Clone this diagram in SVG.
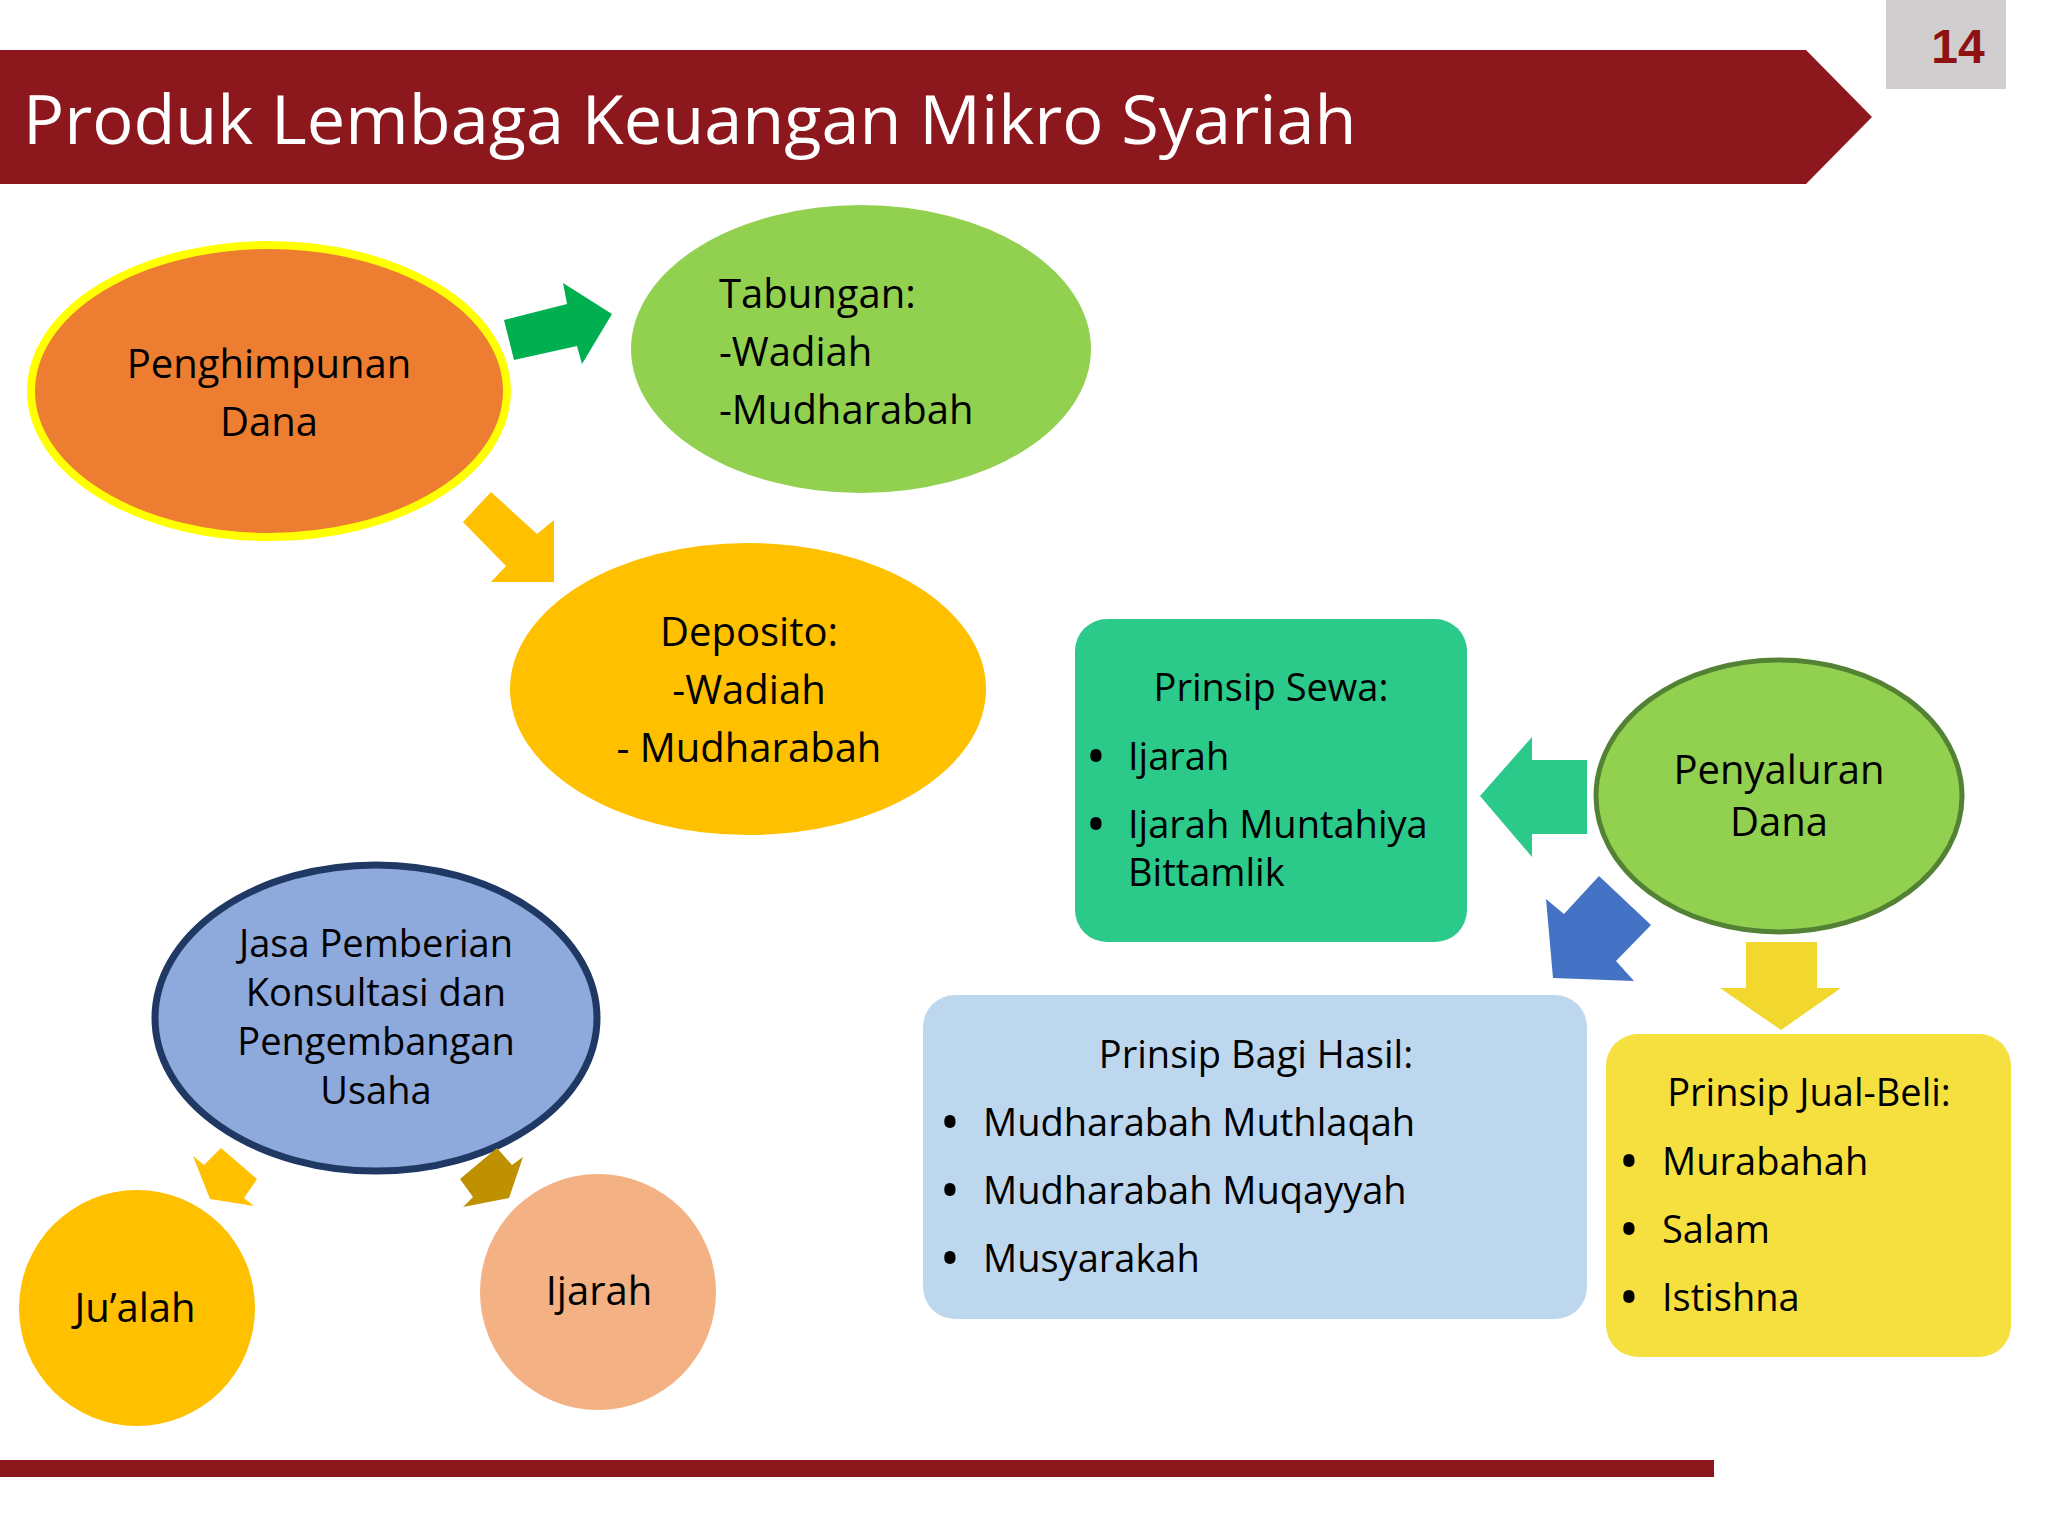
<svg xmlns="http://www.w3.org/2000/svg" width="2048" height="1536" viewBox="0 0 2048 1536">
<style>
  text { font-family: "Open Sans", "Liberation Sans", sans-serif; fill: #000; }
  .t40 { font-size: 40px; }
  .t38 { font-size: 38px; }
  .mid { text-anchor: middle; }
  .bul { font-size: 54px; text-anchor: middle; }
  .title { font-size: 68.5px; fill: #FFFFFF; }
  .pg { font-family: "Liberation Sans", sans-serif; font-weight: bold; font-size: 48px; fill: #8E1212; text-anchor: middle; }
</style>
<rect x="0" y="0" width="2048" height="1536" fill="#FFFFFF"/>

<g id="header">
  <polygon points="0,50 1806,50 1872,117 1806,184 0,184" fill="#8C181D"/>
  <text class="title" x="23" y="144">Produk Lembaga Keuangan Mikro Syariah</text>
</g>
<g id="page-number">
  <rect x="1886" y="0" width="120" height="89" fill="#D0CECE"/>
  <text class="pg" x="1958" y="63">14</text>
</g>

<g id="penghimpunan">
  <ellipse cx="269" cy="391" rx="238" ry="146" fill="#ED7D31" stroke="#FFFF00" stroke-width="8"/>
  <text class="t40 mid" x="269" y="378">Penghimpunan</text>
  <text class="t40 mid" x="269" y="436">Dana</text>
</g>
<g id="tabungan">
  <ellipse cx="861" cy="349" rx="230" ry="144" fill="#92D050"/>
  <text class="t40" x="719" y="308">Tabungan:</text>
  <text class="t40" x="719" y="366">-Wadiah</text>
  <text class="t40" x="719" y="424">-Mudharabah</text>
</g>
<g id="deposito">
  <ellipse cx="748" cy="689" rx="238" ry="146" fill="#FFC000"/>
  <text class="t40 mid" x="749" y="646">Deposito:</text>
  <text class="t40 mid" x="749" y="704">-Wadiah</text>
  <text class="t40 mid" x="749" y="762">- Mudharabah</text>
</g>

<g id="prinsip-sewa">
  <rect x="1075" y="619" width="392" height="323" rx="32" fill="#2BC98A"/>
  <text class="t38 mid" x="1271" y="701">Prinsip Sewa:</text>
  <text class="bul" x="1096" y="776">•</text>
  <text class="t38" x="1128" y="770">Ijarah</text>
  <text class="bul" x="1096" y="844">•</text>
  <text class="t38" x="1128" y="838">Ijarah Muntahiya</text>
  <text class="t38" x="1128" y="886">Bittamlik</text>
</g>
<g id="penyaluran">
  <ellipse cx="1779" cy="796" rx="183" ry="136" fill="#92D050" stroke="#548235" stroke-width="5"/>
  <text class="t40 mid" x="1779" y="784">Penyaluran</text>
  <text class="t40 mid" x="1779" y="836">Dana</text>
</g>
<g id="prinsip-bagi-hasil">
  <rect x="923" y="995" width="664" height="324" rx="32" fill="#BDD7EE"/>
  <text class="t38 mid" x="1256" y="1068">Prinsip Bagi Hasil:</text>
  <text class="bul" x="950" y="1142">•</text>
  <text class="t38" x="983" y="1136">Mudharabah Muthlaqah</text>
  <text class="bul" x="950" y="1210">•</text>
  <text class="t38" x="983" y="1204">Mudharabah Muqayyah</text>
  <text class="bul" x="950" y="1278">•</text>
  <text class="t38" x="983" y="1272">Musyarakah</text>
</g>
<g id="prinsip-jual-beli">
  <rect x="1606" y="1034" width="405" height="323" rx="32" fill="#F5E03F"/>
  <text class="t38 mid" x="1809" y="1106">Prinsip Jual-Beli:</text>
  <text class="bul" x="1629" y="1181">•</text>
  <text class="t38" x="1662" y="1175">Murabahah</text>
  <text class="bul" x="1629" y="1249">•</text>
  <text class="t38" x="1662" y="1243">Salam</text>
  <text class="bul" x="1629" y="1317">•</text>
  <text class="t38" x="1662" y="1311">Istishna</text>
</g>

<g id="jasa">
  <ellipse cx="376" cy="1018" rx="221" ry="153" fill="#8EA9DB" stroke="#203864" stroke-width="7"/>
  <text class="t38 mid" x="376" y="957">Jasa Pemberian</text>
  <text class="t38 mid" x="376" y="1006">Konsultasi dan</text>
  <text class="t38 mid" x="376" y="1055">Pengembangan</text>
  <text class="t38 mid" x="376" y="1104">Usaha</text>
</g>
<g id="jualah">
  <circle cx="137" cy="1308" r="118" fill="#FFC000"/>
  <text class="t40 mid" x="135" y="1322">Ju’alah</text>
</g>
<g id="ijarah">
  <circle cx="598" cy="1292" r="118" fill="#F4B183"/>
  <text class="t40 mid" x="599" y="1305">Ijarah</text>
</g>

<g id="connectors">
  <polygon points="504,320 567,304 563,283 612,314 582,364 577,346 514,360" fill="#00B050"/>
  <polygon points="491,492 537,534 554,520 554,582 491,582 506,566 463,522" fill="#FFC000"/>
  <polygon points="1480,796 1532,737 1532,760 1587,760 1587,834 1532,834 1532,857" fill="#2BC98A"/>
  <polygon points="1599,876 1564,914 1546,899 1553,978 1634,981 1616,961 1651,925" fill="#4472C4"/>
  <polygon points="1746,942 1817,942 1817,988 1841,988 1781,1030 1720,988 1746,988" fill="#F2D72E"/>
  <polygon points="193,1156 204,1165 221,1148 257,1179 244,1198 254,1206 210,1199" fill="#FFC000"/>
  <polygon points="497,1148 512,1165 523,1157 509,1198 463,1207 473,1197 460,1179" fill="#BF9000"/>
</g>

<g id="footer-line">
  <rect x="0" y="1460" width="1714" height="17" fill="#8C181D"/>
</g>
</svg>
